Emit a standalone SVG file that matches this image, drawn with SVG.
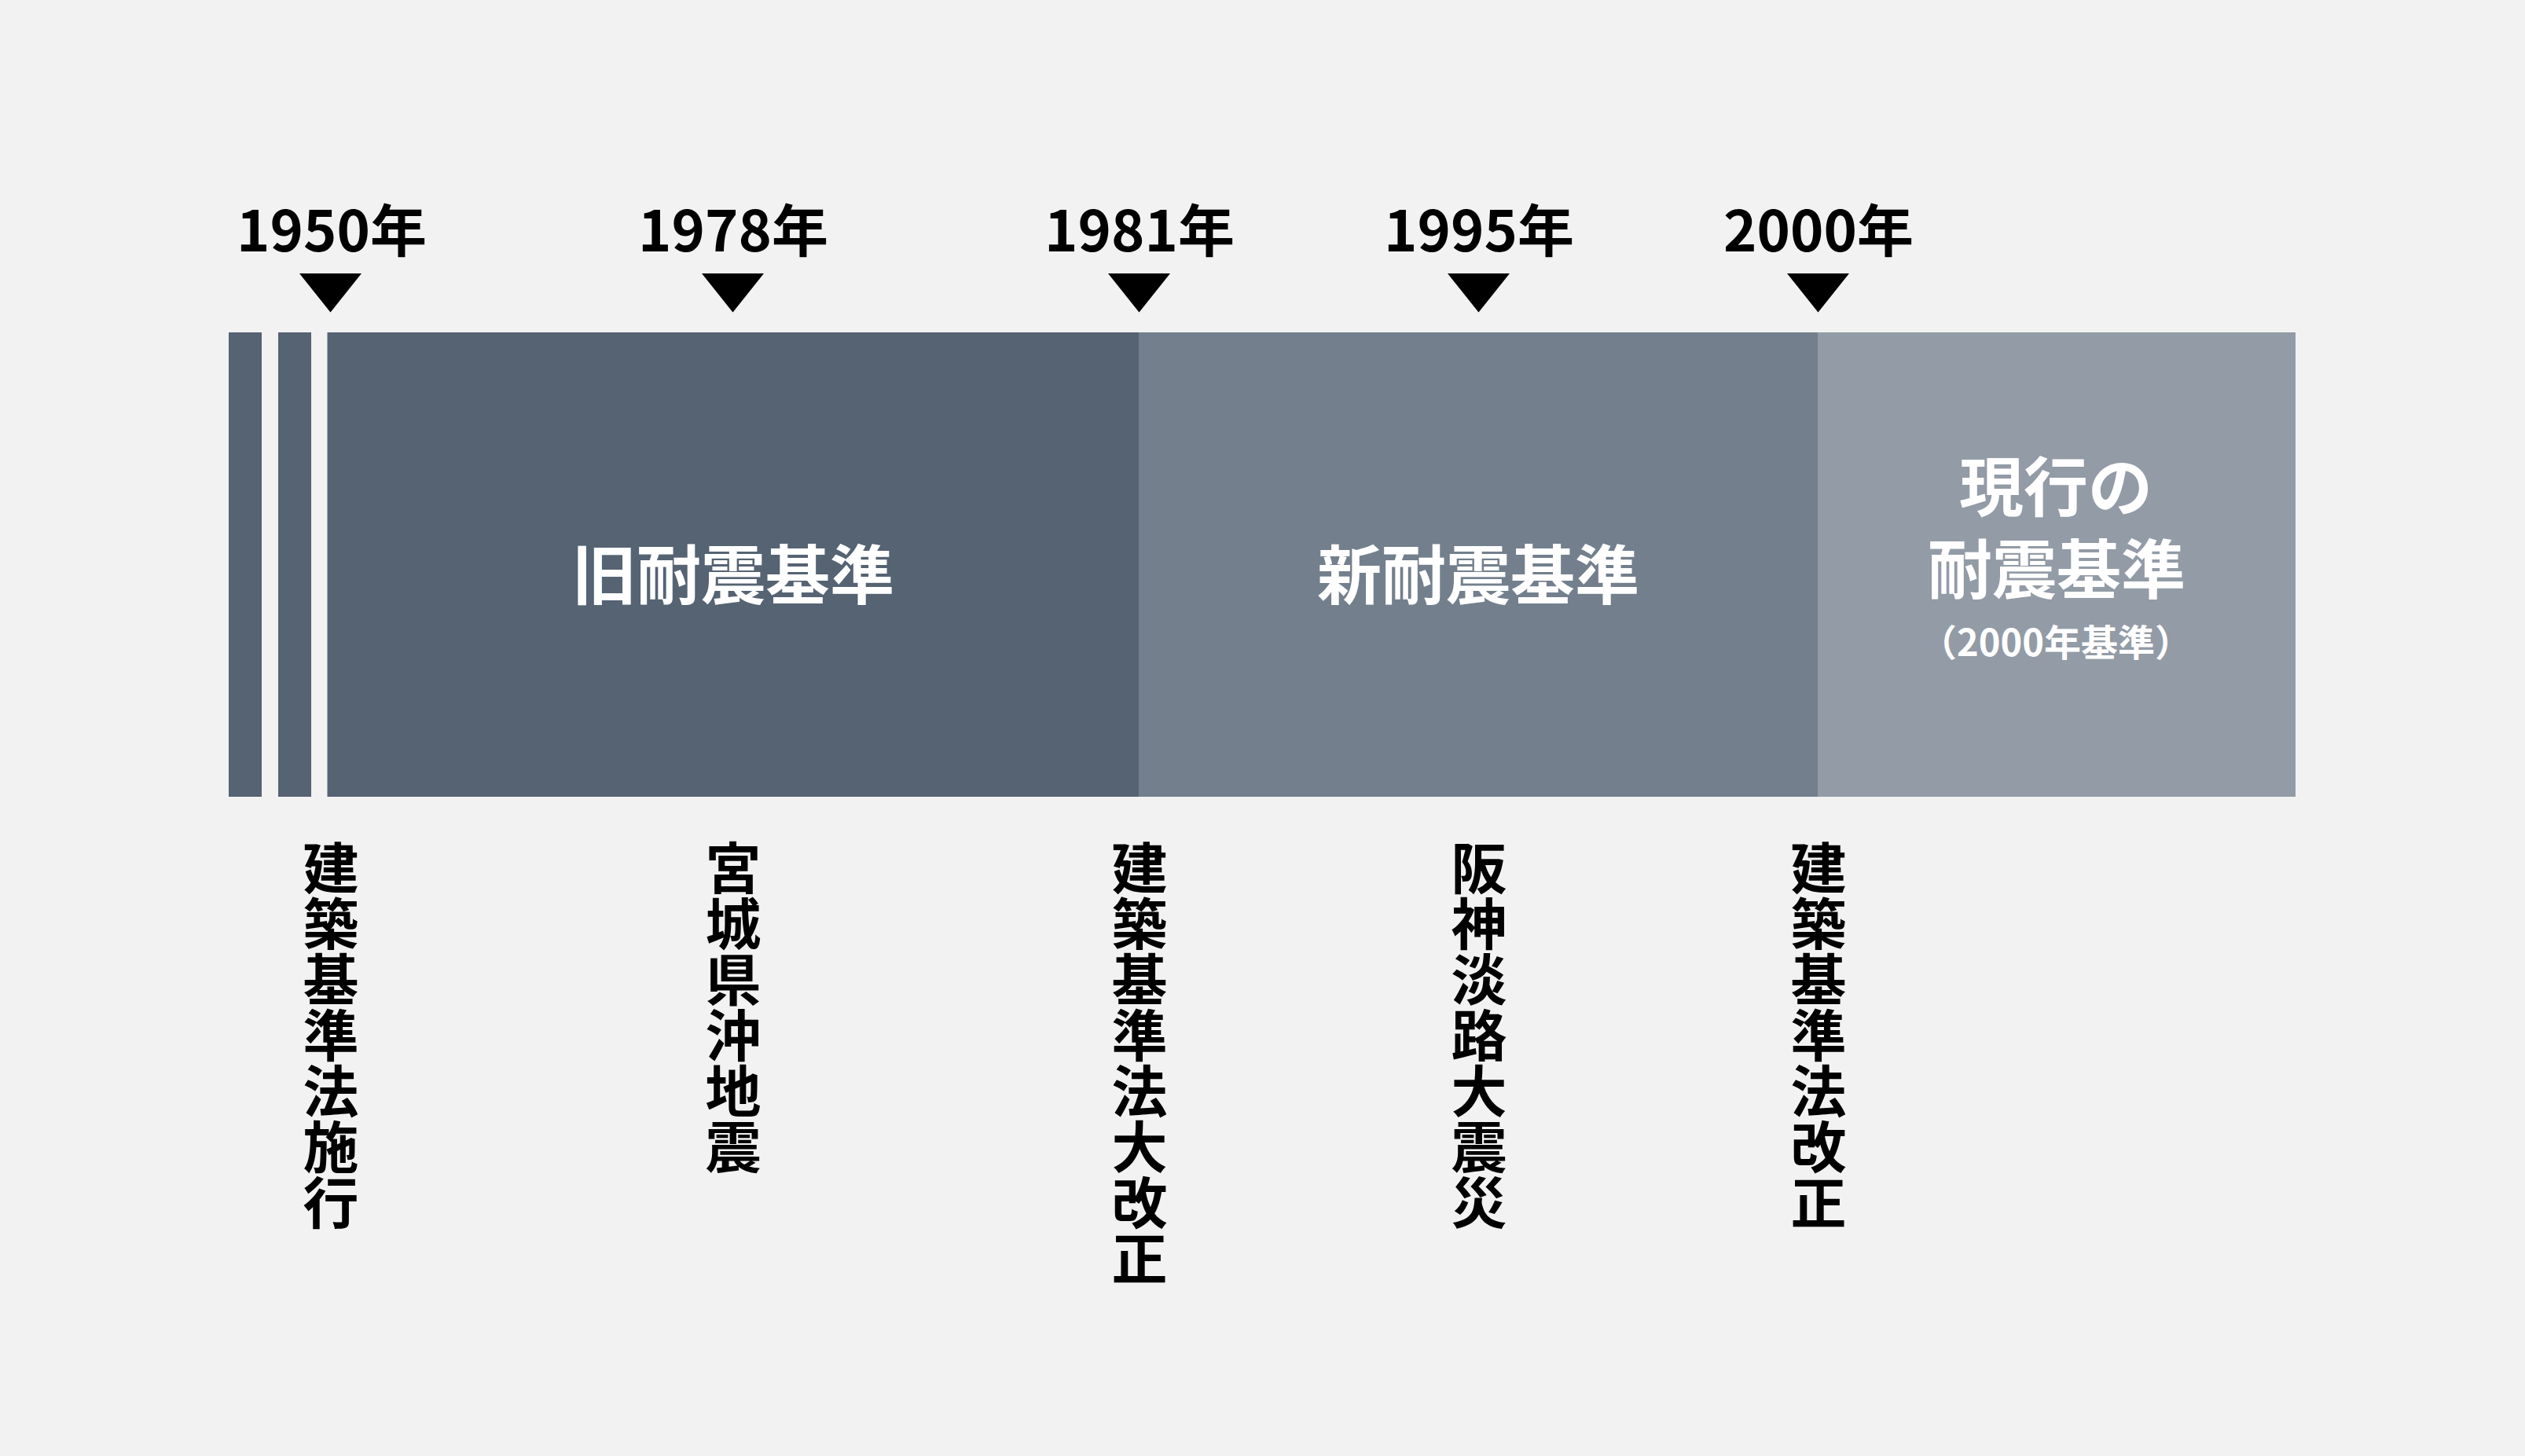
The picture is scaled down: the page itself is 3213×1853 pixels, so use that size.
<svg xmlns="http://www.w3.org/2000/svg" width="3213" height="1853" viewBox="0 0 3213 1853">
<style>
.yr{font-family:"Noto Sans CJK JP","Noto Sans CJK SC",sans-serif;font-weight:700;font-size:72px;fill:#000;text-anchor:middle}
.era{font-family:"Noto Sans CJK JP","Noto Sans CJK SC",sans-serif;font-weight:700;font-size:82px;fill:#fff;text-anchor:middle}
.sub{font-family:"Noto Sans CJK JP","Noto Sans CJK SC",sans-serif;font-weight:700;font-size:47px;fill:#fff;text-anchor:middle}
.ev{font-family:"Noto Sans CJK JP","Noto Sans CJK SC",sans-serif;font-weight:700;font-size:71px;fill:#000;text-anchor:middle}
.tri{fill:#000}
</style>
<rect width="3213" height="1853" fill="#f2f2f2"/>
<g id="bar">
<rect x="291" y="423" width="42" height="591" fill="#556373"/>
<rect x="354" y="423" width="42" height="591" fill="#556373"/>
<rect x="416.5" y="423" width="1033" height="591" fill="#556373"/>
<rect x="1449" y="423" width="864" height="591" fill="#737f8d"/>
<rect x="2313" y="423" width="608" height="591" fill="#929ba6"/>
</g>
<g id="era-old"><text class="era" x="933" y="762">旧耐震基準</text></g>
<g id="era-new"><text class="era" x="1881" y="762">新耐震基準</text></g>
<g id="era-current">
<text class="era" x="2616" y="650">現行の</text>
<text class="era" x="2617" y="755">耐震基準</text>
<text class="sub" x="2616" y="835">（2000年基準）</text>
</g>
<g id="connectors">
<polygon class="tri" points="381,348 460,348 420.5,397.5"/>
<polygon class="tri" points="893,348 972,348 932.5,397.5"/>
<polygon class="tri" points="1410,348 1489,348 1449.5,397.5"/>
<polygon class="tri" points="1842,348 1921,348 1881.5,397.5"/>
<polygon class="tri" points="2274,348 2353,348 2313.5,397.5"/>
</g>
<g id="y1950"><text class="yr" x="422" y="320">1950年</text></g>
<g id="y1978"><text class="yr" x="933" y="320">1978年</text></g>
<g id="y1981"><text class="yr" x="1450" y="320">1981年</text></g>
<g id="y1995"><text class="yr" x="1882" y="320">1995年</text></g>
<g id="y2000"><text class="yr" x="2314" y="320">2000年</text></g>
<g id="ev1950"><text class="ev"><tspan x="421" y="1131">建</tspan><tspan x="421" dy="71">築</tspan><tspan x="421" dy="71">基</tspan><tspan x="421" dy="71">準</tspan><tspan x="421" dy="71">法</tspan><tspan x="421" dy="71">施</tspan><tspan x="421" dy="71">行</tspan></text></g>
<g id="ev1978"><text class="ev"><tspan x="933" y="1131">宮</tspan><tspan x="933" dy="71">城</tspan><tspan x="933" dy="71">県</tspan><tspan x="933" dy="71">沖</tspan><tspan x="933" dy="71">地</tspan><tspan x="933" dy="71">震</tspan></text></g>
<g id="ev1981"><text class="ev"><tspan x="1450" y="1131">建</tspan><tspan x="1450" dy="71">築</tspan><tspan x="1450" dy="71">基</tspan><tspan x="1450" dy="71">準</tspan><tspan x="1450" dy="71">法</tspan><tspan x="1450" dy="71">大</tspan><tspan x="1450" dy="71">改</tspan><tspan x="1450" dy="71">正</tspan></text></g>
<g id="ev1995"><text class="ev"><tspan x="1882" y="1131">阪</tspan><tspan x="1882" dy="71">神</tspan><tspan x="1882" dy="71">淡</tspan><tspan x="1882" dy="71">路</tspan><tspan x="1882" dy="71">大</tspan><tspan x="1882" dy="71">震</tspan><tspan x="1882" dy="71">災</tspan></text></g>
<g id="ev2000"><text class="ev"><tspan x="2314" y="1131">建</tspan><tspan x="2314" dy="71">築</tspan><tspan x="2314" dy="71">基</tspan><tspan x="2314" dy="71">準</tspan><tspan x="2314" dy="71">法</tspan><tspan x="2314" dy="71">改</tspan><tspan x="2314" dy="71">正</tspan></text></g>
</svg>
